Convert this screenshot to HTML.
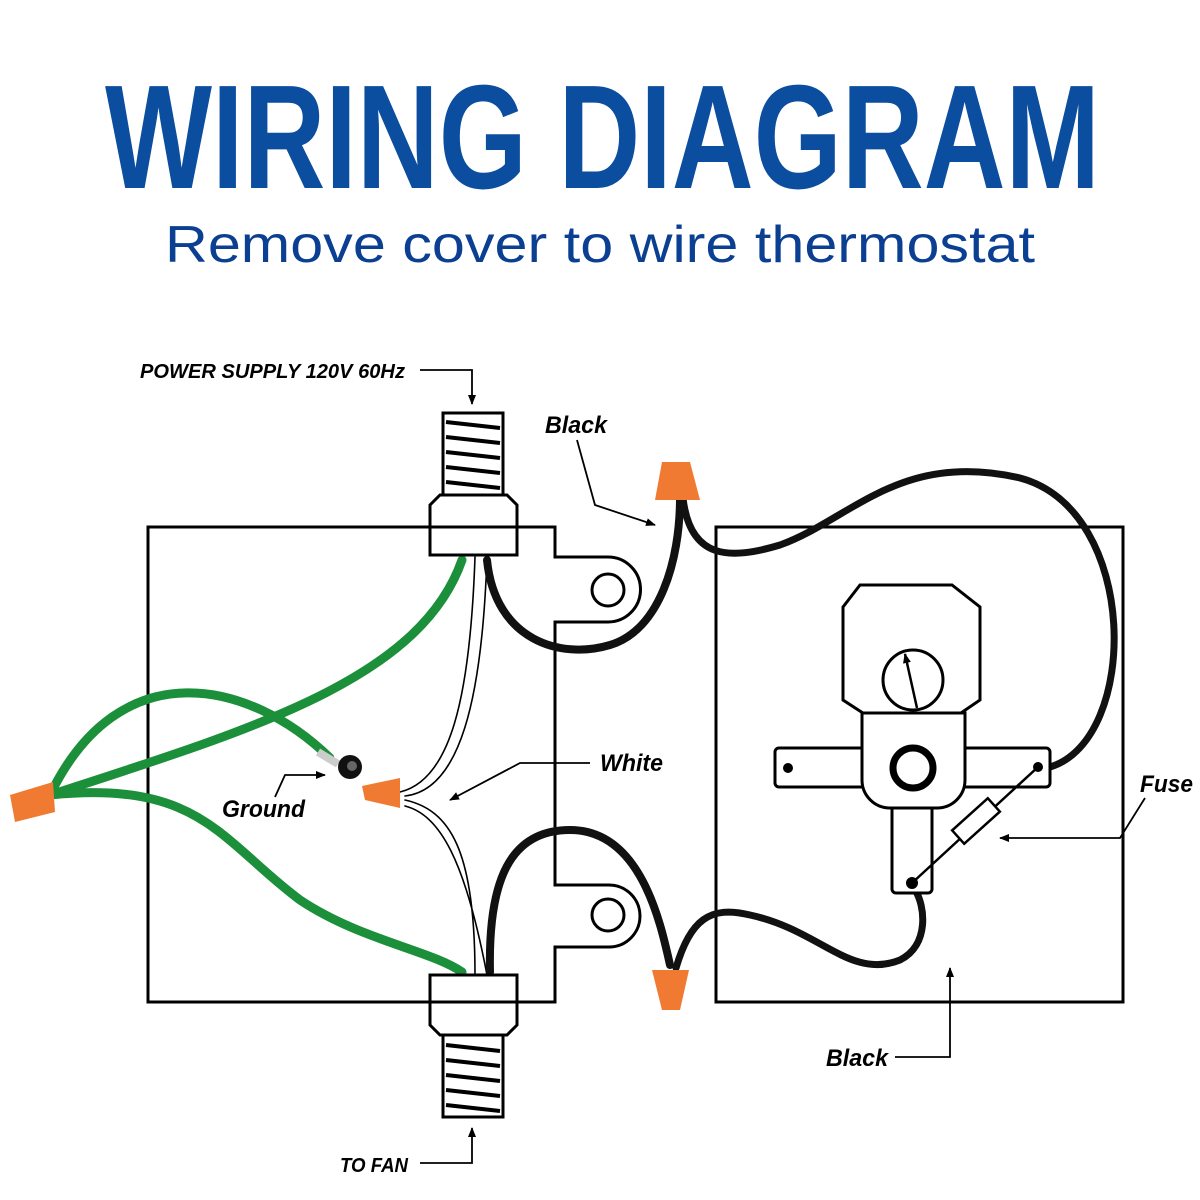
<!DOCTYPE html>
<html><head><meta charset="utf-8"><style>body{margin:0;background:#fff}svg{display:block}</style></head><body>
<svg width="1200" height="1200" viewBox="0 0 1200 1200" xmlns="http://www.w3.org/2000/svg">
<defs><marker id="ar" markerWidth="10" markerHeight="8" refX="9" refY="4" orient="auto" markerUnits="userSpaceOnUse"><path d="M0,0 L10,4 L0,8 Z" fill="#000"/></marker></defs>
<text x="105" y="188" font-family="Liberation Sans" font-weight="bold" font-size="148" fill="#0b4d9e" textLength="995" lengthAdjust="spacingAndGlyphs">WIRING DIAGRAM</text>
<text x="165" y="262" font-family="Liberation Sans" font-size="52" fill="#0b3f92" textLength="870" lengthAdjust="spacingAndGlyphs">Remove cover to wire thermostat</text>
<g fill="none" stroke="#000" stroke-width="3">
<path d="M148,527 H555 V557 H608 A32.5,32.5 0 0 1 608,622 H555 V885 H609 A31,31 0 0 1 609,947 H555 V1002 H148 Z" fill="#fff"/>
<circle cx="608" cy="590" r="16"/><circle cx="608" cy="915" r="16"/>
<rect x="716" y="527" width="407" height="475"/>
</g>
<g fill="none" stroke-linecap="round">
<path d="M462,560 C420,680 250,730 50,795" stroke="#1c8f3a" stroke-width="9"/>
<path d="M50,795 C120,650 250,680 330,758" stroke="#1c8f3a" stroke-width="9"/>
<path d="M50,795 C200,780 220,840 300,900 C360,940 430,950 462,972" stroke="#1c8f3a" stroke-width="9"/>
<path d="M475,557 C470,700 450,780 400,792 M487,557 C482,700 460,790 405,796" stroke="#000" stroke-width="1.6"/>
<path d="M405,800 C450,810 475,850 475,975 M405,806 C440,815 465,860 487,975" stroke="#000" stroke-width="1.6"/>
<path d="M487,560 C495,640 560,660 610,645 C660,630 680,560 680,498" stroke="#111" stroke-width="8"/>
<path d="M683,498 C690,560 730,560 780,545 C850,520 900,450 1020,478 C1140,510 1140,740 1050,767" stroke="#111" stroke-width="7"/>
<path d="M490,972 C488,880 510,830 570,830 C640,830 660,920 670,965" stroke="#111" stroke-width="8"/>
<path d="M676,968 C690,920 710,905 750,915 C820,930 850,980 900,960 C930,945 925,905 915,890" stroke="#111" stroke-width="7"/>
</g>
<line x1="318" y1="752" x2="338" y2="764" stroke="#ccc" stroke-width="8"/>
<circle cx="350" cy="767" r="12" fill="#111"/><circle cx="352" cy="766" r="5" fill="#666"/>
<g fill="#f07a32">
<path d="M662,462 H690 L700,500 H655 Z"/>
<path d="M652,970 H689 L680,1010 H662 Z"/>
<path d="M10,795 L53,782 L55,812 L15,822 Z"/>
<path d="M400,778 V808 L365,800 L362,786 Z"/>
</g>
<g fill="#fff" stroke="#000" stroke-width="3">
<rect x="443" y="413" width="60" height="82"/>
<path d="M430,555 V505 L440,495 H507 L517,505 V555 Z"/>
<line x1="430" y1="527" x2="517" y2="527"/>
<rect x="443" y="1035" width="60" height="82"/>
<path d="M430,975 V1025 L440,1035 H507 L517,1025 V975 Z"/>
<line x1="430" y1="1002" x2="517" y2="1002"/>
</g>
<g stroke="#000" stroke-width="4">
<line x1="446" y1="422" x2="500" y2="428"/><line x1="446" y1="437" x2="500" y2="443"/><line x1="446" y1="452" x2="500" y2="458"/><line x1="446" y1="467" x2="500" y2="473"/><line x1="446" y1="482" x2="500" y2="488"/>
<line x1="446" y1="1045" x2="500" y2="1051"/><line x1="446" y1="1060" x2="500" y2="1066"/><line x1="446" y1="1075" x2="500" y2="1081"/><line x1="446" y1="1090" x2="500" y2="1096"/><line x1="446" y1="1105" x2="500" y2="1111"/>
</g>
<g fill="#fff" stroke="#000" stroke-width="3">
<path d="M860,585 H952 L980,607 V700 L958,715 H866 L843,700 V607 Z"/>
<circle cx="913" cy="680" r="30"/>
<rect x="775" y="748" width="275" height="39" rx="4"/>
<rect x="892" y="800" width="40" height="93" rx="4"/>
<path d="M862,713 H965 V780 A28,28 0 0 1 937,808 H890 A28,28 0 0 1 862,780 Z"/>
</g>
<circle cx="913" cy="768" r="20" fill="none" stroke="#000" stroke-width="7"/>
<line x1="917" y1="708" x2="905" y2="654" stroke="#000" stroke-width="2.5" marker-end="url(#ar)"/>
<circle cx="788" cy="768" r="5"/><circle cx="1038" cy="767" r="5"/><circle cx="912" cy="883" r="6"/>
<line x1="912" y1="883" x2="1038" y2="767" stroke="#000" stroke-width="2.5"/>
<rect x="952" y="812" width="48" height="18" transform="rotate(-42 976 821)" fill="#fff" stroke="#000" stroke-width="2.5"/>
<g font-family="Liberation Sans" font-weight="bold" font-style="italic" fill="#000">
<text x="140" y="378" font-size="20" textLength="265" lengthAdjust="spacingAndGlyphs">POWER SUPPLY 120V 60Hz</text>
<text x="545" y="433" font-size="24" textLength="62" lengthAdjust="spacingAndGlyphs">Black</text>
<text x="600" y="771" font-size="24" textLength="63" lengthAdjust="spacingAndGlyphs">White</text>
<text x="222" y="817" font-size="24" textLength="83" lengthAdjust="spacingAndGlyphs">Ground</text>
<text x="1140" y="792" font-size="24" textLength="53" lengthAdjust="spacingAndGlyphs">Fuse</text>
<text x="826" y="1066" font-size="24" textLength="62" lengthAdjust="spacingAndGlyphs">Black</text>
<text x="340" y="1172" font-size="20" textLength="68" lengthAdjust="spacingAndGlyphs">TO FAN</text>
</g>
<g fill="none" stroke="#000" stroke-width="1.8">
<path d="M420,370 H472 V404" marker-end="url(#ar)"/>
<path d="M420,1163 H472 V1128" marker-end="url(#ar)"/>
<path d="M577,440 L595,505 L655,525" marker-end="url(#ar)"/>
<path d="M590,763 H520 L450,800" marker-end="url(#ar)"/>
<path d="M275,797 L285,775 H325" marker-end="url(#ar)"/>
<path d="M1145,798 L1120,838 H1000" marker-end="url(#ar)"/>
<path d="M895,1057 H950 V968" marker-end="url(#ar)"/>
</g>
</svg>
</body></html>
